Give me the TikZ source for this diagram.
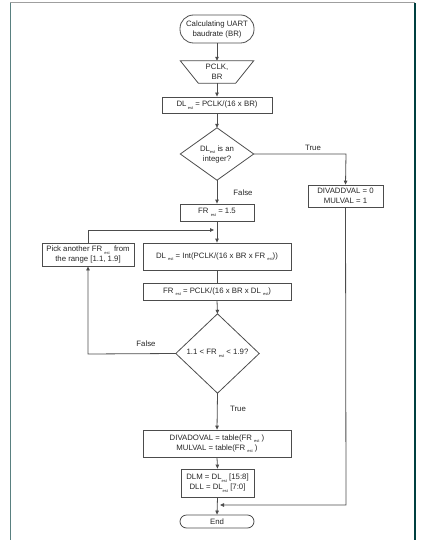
\documentclass[tikz,border=0pt]{standalone}
\usepackage{fontspec}
\setmainfont{Liberation Sans}
\usetikzlibrary{arrows.meta,calc}
\newcommand{\est}{\raisebox{-2.6pt}{\fontsize{4}{4}\selectfont est}}
\begin{document}
\begin{tikzpicture}[x=1pt,y=-1pt,
  every node/.style={font=\fontsize{7.8}{10}\selectfont, align=center, inner sep=0pt, text=black!85},
  box/.style={draw=black!70, line width=0.8pt, minimum width=#1},
  term/.style={draw=black!70, line width=0.8pt, minimum width=74, rounded corners=#1},
  shp/.style={draw=none, minimum width=#1},
  conn/.style={draw=black!70, line width=0.8pt},
  arr/.style={conn, -{Triangle[length=4pt,width=3.5pt]}},
  lbl/.style={font=\fontsize{7.8}{10}\selectfont}]
\useasboundingbox (0,0) rectangle (425,540);
% frame
\draw[gray!75, line width=1pt] (10,3) -- (415,3);
\draw[gray!70!teal, line width=1pt] (10,3) -- (10,540);
\draw[teal!50!black, line width=1.2pt] (415,3) -- (415,540);

% nodes
\node[term=13.5pt, minimum height=28] (start) at (217,29) {Calculating UART\\baudrate (BR)};
\node[shp=73, minimum height=22] (in) at (217,72) {PCLK,\\BR};
\draw[conn] (in.north west) -- (in.north east) -- ([xshift=-18]in.south east) -- ([xshift=18]in.south west) -- cycle;
\node[box=110, minimum height=16] (dl) at (217,105) {DL\,\est\ = PCLK/(16 x BR)};
\node[shp=73, minimum height=52] (d1) at (217,154) {DL\est\ is an\\integer?};
\draw[conn] (d1.north) -- (d1.east) -- (d1.south) -- (d1.west) -- cycle;
\node[box=75, minimum height=22] (div0) at (345.5,196) {DIVADDVAL = 0\\MULVAL = 1};
\node[box=74, minimum height=17] (fr15) at (217,212.5) {FR \est\ = 1.5};
\node[box=148, minimum height=27] (dlint) at (217,256.5) {DL \est\ = Int(PCLK/(16 x BR x FR \est))};
\node[box=92, minimum height=23] (pick) at (88,254.5) {Pick another FR \est\ \ from\\the range [1.1, 1.9]};
\node[box=148, minimum height=17] (frpclk) at (217,291.5) {FR \est\ = PCLK/(16 x BR x DL \est)};
\node[shp=83, minimum height=79] (d2) at (217.5,353.5) {1.1 < FR \est\ < 1.9?};
\draw[conn] (d2.north) -- (d2.east) -- (d2.south) -- (d2.west) -- cycle;
\node[box=148, minimum height=27] (divtab) at (217,443.5) {DIVADOVAL = table(FR \est\ )\\MULVAL = table(FR \est\ )};
\node[box=73, minimum height=28] (dlm) at (217.5,483) {DLM = DL\est\ [15:8]\\DLL = DL\est\ [7:0]};
\node[term=6.5pt, minimum height=13] (end) at (217,521.5) {End};

\coordinate (loop) at (217,230);
\coordinate (join) at (217,505);
\coordinate (tr) at (346,154);
\coordinate (br) at (346,505);
\coordinate (fl) at (88,354);

% connectors
\draw[arr] (start) -- (in);
\draw[arr] (in) -- (dl);
\draw[arr] (dl) -- (d1);
\draw[arr] (d1.east) -- (tr) -- (div0.north);
\node[lbl] at (313,148) {True};
\draw[arr] (d1.south) -- (fr15.north);
\node[lbl] at (243,193) {False};
\draw[arr] (fr15.south) -- (dlint.north);
\draw[conn, -{Triangle[length=4pt,width=3.5pt]}] (pick.north) |- ([xshift=-3]loop);
\draw[conn] (dlint.south) -- (frpclk.north);
\draw[arr] (frpclk.south) -- (d2.north);
\draw[arr] (d2.west) -- (fl) -- (pick.south);
\node[lbl] at (146,344) {False};
\draw[arr] (d2.south) -- (divtab.north);
\node[lbl] at (238,409) {True};
\draw[arr] (divtab.south) -- (dlm.north);
\draw[arr] (dlm.south) -- (end.north);
\draw[conn, -{Triangle[length=4pt,width=3.5pt]}] (div0.south) -- (br) -- ([xshift=3]join);
\end{tikzpicture}
\end{document}
